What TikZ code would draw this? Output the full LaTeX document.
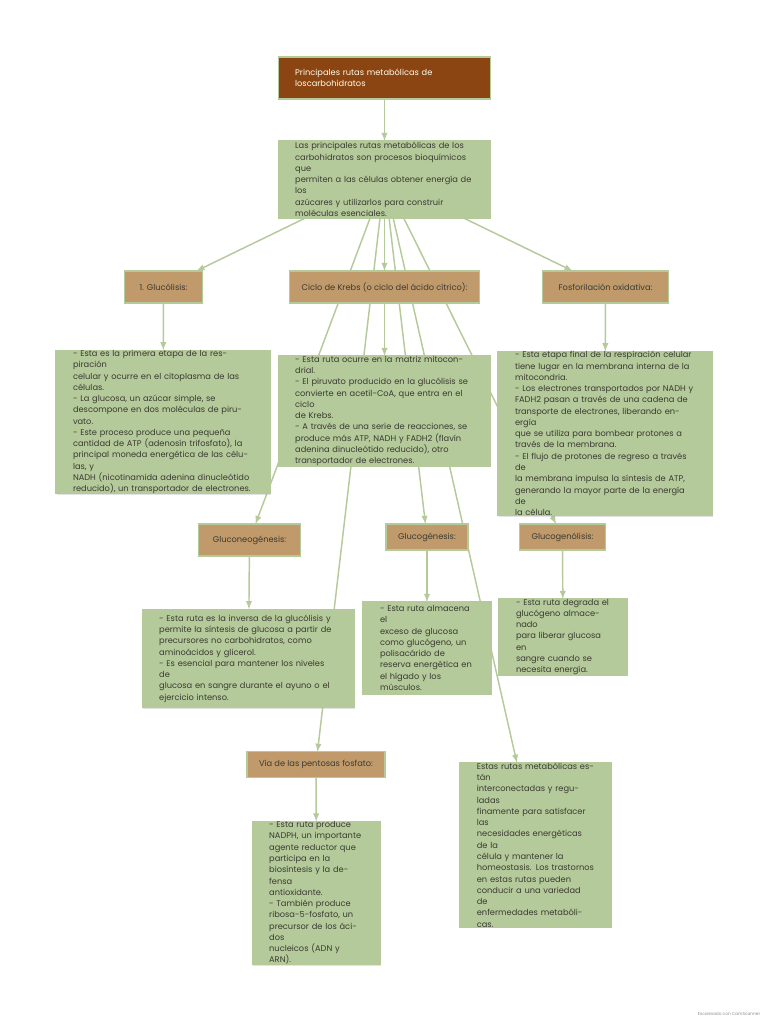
\documentclass[tikz,border=0pt]{standalone}
\usepackage{fontspec}
\setmainfont{Poppins}
\usetikzlibrary{shadows,backgrounds}
\definecolor{hoja}{HTML}{B5CA9A}
\definecolor{canela}{HTML}{C19A6B}
\definecolor{caoba}{HTML}{8B4513}
\definecolor{tinta}{HTML}{3A3A32}
\tikzset{
	caja/.style={rectangle, draw=hoja, line width=0.9pt, outer sep=0pt, inner xsep=12.75pt, inner ysep=0pt,
		align=left, text=tinta, font=\fontsize{6.2}{8.45}\selectfont,
		drop shadow={opacity=0.22, shadow xshift=0.4pt, shadow yshift=-0.8pt}},
	textocaja/.style={caja, fill=hoja},
	titulocaja/.style={caja, fill=canela, align=center, inner xsep=0pt},
	enlace/.style={->,>=latex, draw=hoja, line width=1.1pt},
}
\begin{document}
\begin{tikzpicture}[x=0.75pt, y=-0.75pt]
\useasboundingbox (0,0) rectangle (768,1024);

\node[caja, fill=caoba, text=white!92!yellow, text width=134pt, minimum height=31.5pt] (principal) at (384.5,78) {Principales rutas metabólicas de\\loscarbohidratos};
\node[textocaja, text width=134pt, minimum height=57.75pt] (intro) at (384.5,179.5) {Las principales rutas metabólicas de los\\carbohidratos son procesos bioquímicos que\\permiten a las células obtener energía de los\\azúcares y utilizarlos para construir\\moléculas esenciales.};

\node[titulocaja, minimum width=59pt, minimum height=24pt] (glucolisis) at (163.5,287) {1. Glucólisis:};
\node[titulocaja, minimum width=143pt, minimum height=24pt] (krebs) at (384.5,287) {Ciclo de Krebs (o ciclo del ácido cítrico):};
\node[titulocaja, minimum width=94.5pt, minimum height=24pt] (fosforilacion) at (605.5,287) {Fosforilación oxidativa:};

\node[textocaja, text width=135pt, minimum height=99pt] (textoglucolisis) at (163,422) {- Esta es la primera etapa de la respiración\\celular y ocurre en el citoplasma de las\\células.\\- La glucosa, un azúcar simple, se\\descompone en dos moléculas de piruvato.\\- Este proceso produce una pequeña\\cantidad de ATP (adenosín trifosfato), la\\principal moneda energética de las células, y\\NADH (nicotinamida adenina dinucleótido\\reducido), un transportador de electrones.};
\node[textocaja, text width=134pt, minimum height=82.5pt] (textokrebs) at (384.5,411) {- Esta ruta ocurre en la matriz mitocondrial.\\- El piruvato producido en la glucólisis se\\convierte en acetil-CoA, que entra en el ciclo\\de Krebs.\\- A través de una serie de reacciones, se\\produce más ATP, NADH y FADH2 (flavín\\adenina dinucleótido reducido), otro\\transportador de electrones.};
\node[textocaja, text width=135pt, minimum height=116pt] (textofosforilacion) at (605,433.5) {- Esta etapa final de la respiración celular\\tiene lugar en la membrana interna de la\\mitocondria.\\- Los electrones transportados por NADH y\\FADH2 pasan a través de una cadena de\\transporte de electrones, liberando energía\\que se utiliza para bombear protones a\\través de la membrana.\\- El flujo de protones de regreso a través de\\la membrana impulsa la síntesis de ATP,\\generando la mayor parte de la energía de\\la célula.};

\node[titulocaja, minimum width=77pt, minimum height=24pt] (gluconeo) at (249.5,540) {Gluconeogénesis:};
\node[titulocaja, minimum width=61.5pt, minimum height=19.5pt] (glucogenesis) at (427,537) {Glucogénesis:};
\node[titulocaja, minimum width=65pt, minimum height=19.5pt] (glucogenolisis) at (562.5,537) {Glucogenólisis:};

\node[textocaja, text width=134pt, minimum height=74pt] (textogluconeo) at (248.5,658.5) {- Esta ruta es la inversa de la glucólisis y\\permite la síntesis de glucosa a partir de\\precursores no carbohidratos, como\\aminoácidos y glicerol.\\- Es esencial para mantener los niveles de\\glucosa en sangre durante el ayuno o el\\ejercicio intenso.};
\node[textocaja, text width=70.5pt, minimum height=69pt] (textoglucogenesis) at (427,648) {- Esta ruta almacena el\\exceso de glucosa\\como glucógeno, un\\polisacárido de\\reserva energética en\\el hígado y los\\músculos.};
\node[textocaja, text width=70.5pt, minimum height=52.5pt] (textoglucogenolisis) at (563,637) {- Esta ruta degrada el\\glucógeno almacenado\\para liberar glucosa en\\sangre cuando se\\necesita energía.};

\node[titulocaja, minimum width=103.5pt, minimum height=19pt] (pentosas) at (316,764.5) {Vía de las pentosas fosfato:};
\node[textocaja, text width=71pt, minimum height=94.5pt] (textopentosas) at (316.5,893) {- Esta ruta produce\\NADPH, un importante\\agente reductor que\\participa en la\\biosíntesis y la defensa\\antioxidante.\\- También produce\\ribosa-5-fosfato, un\\precursor de los ácidos\\nucleicos (ADN y ARN).};
\node[textocaja, text width=88pt, minimum height=85.5pt] (textofinal) at (535.5,845) {Estas rutas metabólicas están\\interconectadas y reguladas\\finamente para satisfacer las\\necesidades energéticas de la\\célula y mantener la\\homeostasis. Los trastornos\\en estas rutas pueden\\conducir a una variedad de\\enfermedades metabólicas.};

\node[text=black!45, inner sep=0pt, font=\fontsize{3.2}{4}\selectfont] (marca) at (729,1014) {Escaneado con CamScanner};

% the lines run behind the boxes
\begin{pgfonlayer}{background}
\foreach \desde/\hasta in {principal/intro, intro/glucolisis, intro/krebs, intro/fosforilacion,
	intro/gluconeo, intro/pentosas, intro/glucogenesis, intro/textofinal, intro/glucogenolisis,
	glucolisis/textoglucolisis, krebs/textokrebs, fosforilacion/textofosforilacion,
	gluconeo/textogluconeo, glucogenesis/textoglucogenesis, glucogenolisis/textoglucogenolisis,
	pentosas/textopentosas}
	\draw[enlace] (\desde) -- (\hasta);
\end{pgfonlayer}
\end{tikzpicture}
\end{document}
